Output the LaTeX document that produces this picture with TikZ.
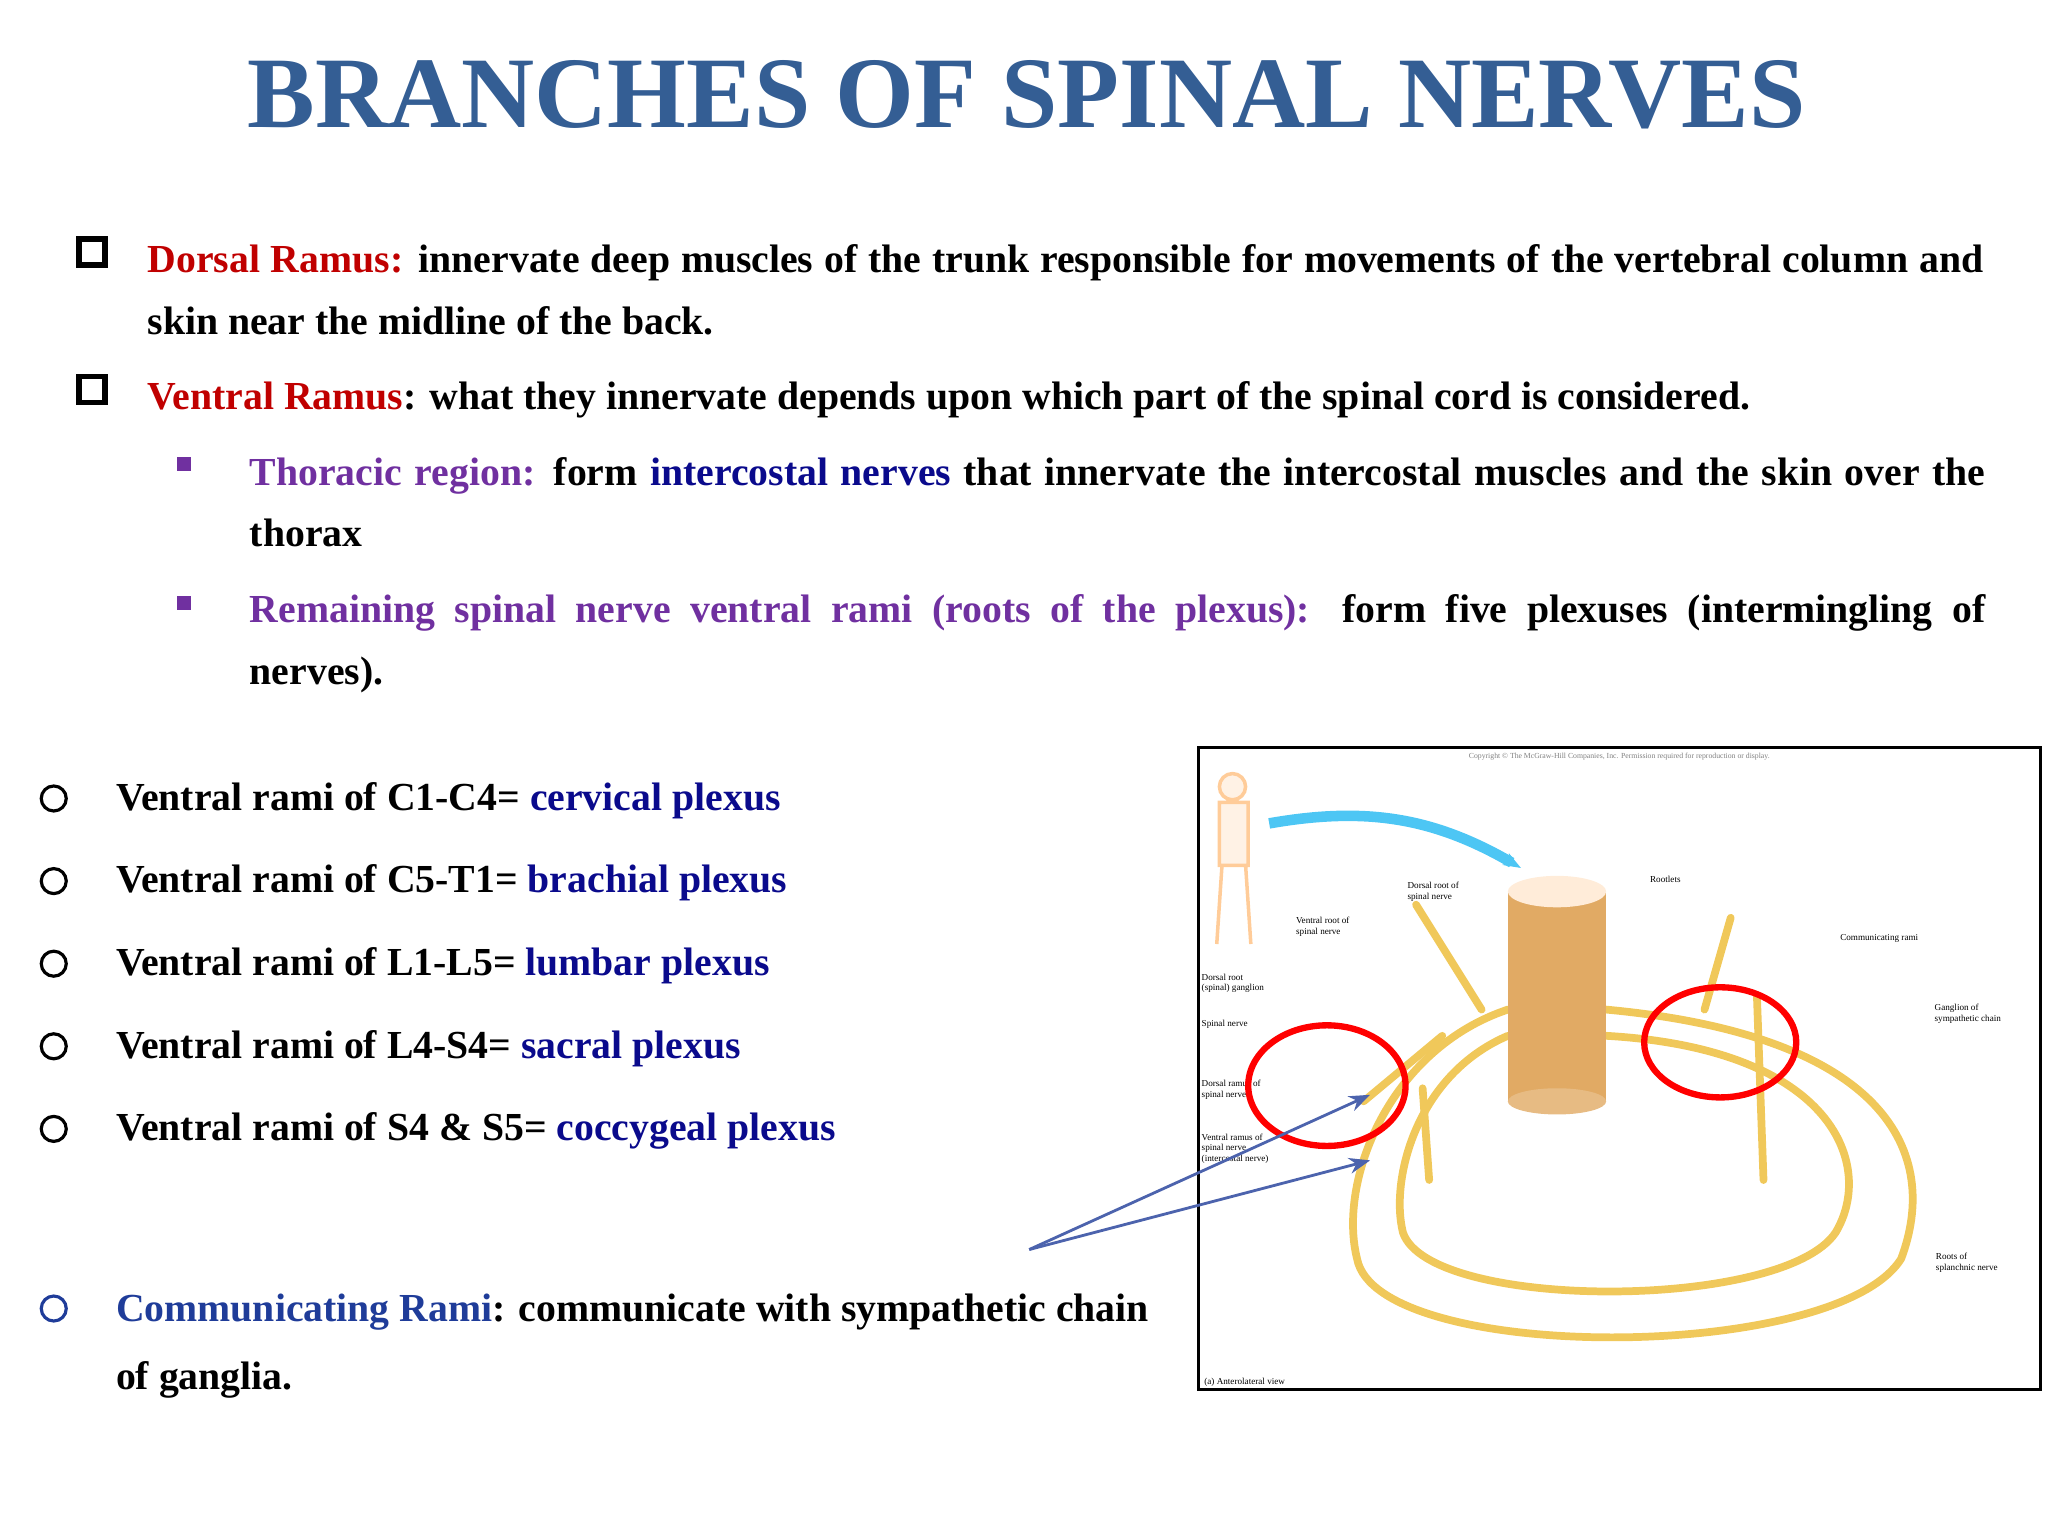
\documentclass[tikz,border=0pt]{standalone}
\usepackage{fontspec}
\setmainfont{Liberation Serif}
\usepackage{tikz}
\usetikzlibrary{arrows.meta}
\usetikzlibrary{calc}
\definecolor{titleblue}{RGB}{52,94,148}
\definecolor{ramred}{RGB}{192,0,0}
\definecolor{regpurple}{RGB}{112,48,160}
\definecolor{plexblue}{RGB}{10,10,140}
\definecolor{commblue}{RGB}{31,60,153}
\definecolor{nerve}{RGB}{240,200,90}
\definecolor{cord}{RGB}{225,170,100}
\tikzset{
  body/.style = {anchor=base west, inner sep=0pt, font=\fontsize{11.3}{17.5}\selectfont\bfseries},
  para/.style = {body, text width=#1, align=justify},
  box/.style = {draw, line width=1.6pt, minimum size=0.26cm, inner sep=0pt},
  sq/.style = {fill=regpurple, minimum size=0.14cm, inner sep=0pt},
  ring/.style = {draw, circle, line width=0.9pt, minimum size=0.25cm, inner sep=0pt},
  lbl/.style = {anchor=west, inner sep=0pt, align=left, font=\fontsize{2.6}{3}\selectfont},
  nv/.style = {draw=nerve, line width=2.2pt, line cap=round},
}
\begin{document}
\begin{tikzpicture}[x=0.01311cm, y=-0.01311cm]
    \useasboundingbox (0,0) rectangle (1562,1171);

    \node [font=\fontsize{28.8}{34}\selectfont\bfseries, text=titleblue] (title) at (783,72) {BRANCHES OF SPINAL NERVES};

    % main bullets
    \node [box] (b1) at (70,192) {};
    \node [para=18.35cm] (dorsal) at (112,208) {\textcolor{ramred}{Dorsal Ramus:} innervate deep muscles of the trunk responsible for movements of the vertebral column and skin near the midline of the back.};
    \node [box] (b2) at (70,297) {};
    \node [body] (ventral) at (112,312) {\textcolor{ramred}{Ventral Ramus}: what they innervate depends upon which part of the spinal cord is considered.};
    \node [sq] (s1) at (140,354) {};
    \node [para=17.35cm] (thor) at (190,370) {\textcolor{regpurple}{Thoracic region:} form \textcolor{plexblue}{intercostal nerves} that innervate the intercostal muscles and the skin over the thorax};
    \node [sq] (s2) at (140,460) {};
    \node [para=17.35cm] (rem) at (190,475) {\textcolor{regpurple}{Remaining spinal nerve ventral rami (roots of the plexus):} form five plexuses (intermingling of\linebreak nerves).};

    % plexus list
    \foreach \i/\a/\p in {0/C1-C4/cervical plexus, 1/C5-T1/brachial plexus, 2/L1-L5/lumbar plexus, 3/L4-S4/sacral plexus, 4/S4 \& S5/coccygeal plexus}{
        \node [ring] (r\i) at (41,609+63*\i) {};
        \node [body] (p\i) at (88,618+63*\i) {Ventral rami of \a= \textcolor{plexblue}{\p}};
    }
    \node [ring, draw=commblue] (rc) at (41,998) {};
    \node [body] (comm) at (88,1008) {\textcolor{commblue}{Communicating Rami}: communicate with sympathetic chain};
    \node [body] (comm2) at (88,1060) {of ganglia.};

    % figure
    \draw [line width=0.8pt] (914,570) rectangle (1556,1060);
    \node [font=\fontsize{2.2}{3}\selectfont, text=gray] (copy) at (1235,577) {Copyright \textcopyright\ The McGraw-Hill Companies, Inc. Permission required for reproduction or display.};
    \node [lbl] (av) at (918,1054) {(a) Anterolateral view};
    % small body figure
    \draw [draw=orange!40, line width=1pt, fill=orange!10] (940,600) circle (10) (930,612) rectangle (952,660) (932,660) -- (928,720) (950,660) -- (954,720);
    \draw [-{Stealth[length=5pt]}, draw=cyan!70, line width=3pt] (968,628) to[bend left=20] (1160,662);
    % nerve rings
    \draw [nv] (1150,770) .. controls (1060,800) and (1020,900) .. (1035,960) .. controls (1050,1040) and (1400,1040) .. (1450,960) .. controls (1480,880) and (1440,790) .. (1225,770);
    \draw [nv] (1150,790) .. controls (1080,820) and (1060,900) .. (1070,940) .. controls (1090,1000) and (1360,1000) .. (1400,940) .. controls (1430,890) and (1400,800) .. (1225,790);
    \draw [nv] (1040,840) -- (1100,790) (1340,760) -- (1345,900) (1085,830) -- (1090,900) (1320,700) -- (1300,770) (1080,690) -- (1130,770);
    % spinal cord
    \fill [cord] (1150,680) rectangle (1225,840);
    \fill [cord!80!white] (1187.5,840) ellipse (37.5 and 10);
    \fill [orange!15] (1187.5,680) ellipse (37.5 and 12);
    % labels
    \node [lbl] (l1) at (1073,680) {Dorsal root of\\spinal nerve};
    \node [lbl] (l2) at (988,707) {Ventral root of\\spinal nerve};
    \node [lbl] (l3) at (1258,671) {Rootlets};
    \node [lbl] (l4) at (1403,716) {Communicating rami};
    \node [lbl] (l5) at (1475,773) {Ganglion of\\sympathetic chain};
    \node [lbl] (l6) at (916,750) {Dorsal root\\(spinal) ganglion};
    \node [lbl] (l7) at (916,781) {Spinal nerve};
    \node [lbl] (l8) at (916,831) {Dorsal ramus of\\spinal nerve};
    \node [lbl] (l9) at (916,876) {Ventral ramus of\\spinal nerve\\(intercostal nerve)};
    \node [lbl] (l10) at (1476,963) {Roots of\\splanchnic nerve};
    % highlights
    \draw [red, line width=1.8pt] (1012,828) ellipse (60 and 46);
    \draw [red, line width=1.8pt] (1312,795) ellipse (58 and 42);
    \coordinate (tail) at (785,953);
    \coordinate (h1) at (1045,835);
    \coordinate (h2) at (1045,885);
    \draw [-{Stealth[length=6pt]}, draw=commblue!80, line width=0.8pt] (tail) -- (h1);
    \draw [-{Stealth[length=6pt]}, draw=commblue!80, line width=0.8pt] (tail) -- (h2);
\end{tikzpicture}
\end{document}
